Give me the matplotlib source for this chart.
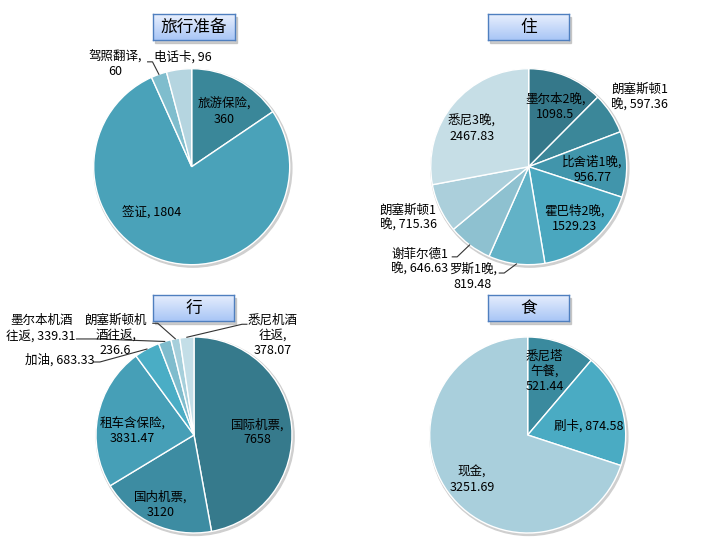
import numpy as np
import matplotlib
matplotlib.use('Agg')
from matplotlib import pyplot as plt
from matplotlib.colors import LinearSegmentedColormap
from matplotlib.patches import Circle, Rectangle

plt.rcParams['font.family'] = ['Noto Sans CJK SC', 'DejaVu Sans']

# 旅行准备
prep_names = ['旅游保险', '签证', '驾照翻译', '电话卡']
prep_values = [360, 1804, 60, 96]

# 住
stay_names = ['墨尔本2晚', '朗塞斯顿1晚', '比舍诺1晚', '霍巴特2晚', '罗斯1晚',
              '谢菲尔德1晚', '朗塞斯顿1晚', '悉尼3晚']
stay_values = [1098.5, 597.36, 956.77, 1529.23, 819.48, 646.63, 715.36, 2467.83]

# 行
move_names = ['国际机票', '国内机票', '租车含保险', '加油', '墨尔本机酒往返',
              '朗塞斯顿机酒往返', '悉尼机酒往返']
move_values = [7658, 3120, 3831.47, 683.33, 339.31, 236.6, 378.07]

# 食
food_names = ['悉尼塔午餐', '刷卡', '现金']
food_values = [521.44, 874.58, 3251.69]

W, H = 724, 551
R = 98  # pie radius in px
PAD = 1.25


def fmt(name, val, cut=0, nl=True):
    if cut:
        name = name[:cut] + '\n' + name[cut:]
    return name + (',\n' if nl else ', ') + f'{val:g}'


def title_box(fig, x0, y0, x1, y1, text):
    # shadow
    fig.patches.append(Rectangle(((x0 + 2) / W, 1 - (y1 + 3) / H),
                                 (x1 - x0) / W, (y1 - y0) / H,
                                 transform=fig.transFigure, color='#b8b8b8',
                                 alpha=0.7, zorder=-1))
    ax = fig.add_axes([x0 / W, 1 - y1 / H, (x1 - x0) / W, (y1 - y0) / H],
                      zorder=2)
    cmap = LinearSegmentedColormap.from_list('g', ['#a9c6f6', '#e8effd'])
    ax.imshow(np.linspace(1, 0, 50).reshape(-1, 1), cmap=cmap, aspect='auto',
              extent=[0, 1, 0, 1])
    ax.set_xticks([])
    ax.set_yticks([])
    for s in ax.spines.values():
        s.set_color('#4f7fbf')
        s.set_linewidth(1.0)
    ax.text(0.5, 0.48, text, ha='center', va='center', fontsize=12,
            transform=ax.transAxes)


def pie(fig, cx, cy, values, colors, labels, pos, leaders):
    L = R * PAD
    ax = fig.add_axes([(cx - L) / W, 1 - (cy + L) / H, 2 * L / W, 2 * L / H])
    ax.set_xlim(-PAD, PAD)
    ax.set_ylim(-PAD, PAD)
    ax.axis('off')
    ax.add_patch(Circle((0.012, -0.015), 1.01, color='#cfcfcf', zorder=0))
    wedges, _ = ax.pie(values, colors=colors, startangle=90, counterclock=False,
                       radius=1, wedgeprops=dict(edgecolor='white', linewidth=1.0))
    for txt, (x, y) in zip(labels, pos):
        ax.text(x, y, txt, ha='center', va='center', fontsize=9,
                linespacing=1.2, zorder=5)
    for i, (x, y, dx) in leaders.items():
        w = wedges[i]
        a = np.deg2rad((w.theta1 + w.theta2) / 2)
        ax.plot([x, x + dx, np.cos(a)], [y, y, np.sin(a)], color='#333333',
                lw=0.8, zorder=4, clip_on=False)
    ax.set_aspect('equal')
    return ax


fig = plt.figure(figsize=(W / 100, H / 100), dpi=100)

# 旅行准备
pie(fig, 191.7, 166.7, prep_values,
    ['#3a8799', '#4aa2b9', '#7fbdcd', '#b5d5e0'],
    [fmt(prep_names[0], prep_values[0]),
     fmt(prep_names[1], prep_values[1], nl=False),
     fmt(prep_names[2], prep_values[2]),
     fmt(prep_names[3], prep_values[3], nl=False)],
    [(0.33, 0.56), (-0.41, -0.47), (-0.78, 1.05), (-0.09, 1.12)],
    {2: (-0.45, 1.07, 0.05)})

# 住
pie(fig, 528.7, 166.7, stay_values,
    ['#35788a', '#3b8799', '#4195ab', '#4aa7bf', '#62b2c7', '#8ec1d0',
     '#abcfdb', '#c6dee6'],
    [fmt(stay_names[0], stay_values[0]),
     fmt(stay_names[1], stay_values[1], cut=5, nl=False),
     fmt(stay_names[2], stay_values[2]),
     fmt(stay_names[3], stay_values[3]),
     fmt(stay_names[4], stay_values[4]),
     fmt(stay_names[5], stay_values[5], cut=5, nl=False),
     fmt(stay_names[6], stay_values[6], cut=5, nl=False),
     fmt(stay_names[7], stay_values[7])],
    [(0.27, 0.61), (1.13, 0.71), (0.65, -0.03), (0.47, -0.53),
     (-0.57, -1.12), (-1.11, -0.97), (-1.23, -0.52), (-0.58, 0.39)],
    {4: (-0.30, -1.085, 0.05), 5: (-0.78, -0.92, 0.05)})

# 行
pie(fig, 194, 435, move_values,
    ['#367a8c', '#3d8ca2', '#469fb7', '#4aadc5', '#7fbccd', '#a6cfdb', '#c3dee7'],
    [fmt(move_names[0], move_values[0]),
     fmt(move_names[1], move_values[1]),
     fmt(move_names[2], move_values[2]),
     fmt(move_names[3], move_values[3], nl=False),
     fmt(move_names[4], move_values[4], cut=5, nl=False),
     fmt(move_names[5], move_values[5], cut=5),
     fmt(move_names[6], move_values[6], cut=4)],
    [(0.65, 0.03), (-0.34, -0.71), (-0.63, 0.04), (-1.37, 0.77),
     (-1.56, 1.09), (-0.80, 1.02), (0.80, 1.02)],
    {3: (-1.02, 0.745, 0.06), 4: (-1.20, 0.98, 0.2),
     5: (-0.42, 1.14, 0.05), 6: (0.54, 1.13, -0.05)})

# 食
pie(fig, 527.7, 435, food_values,
    ['#3a8a9e', '#4aabc3', '#a9cfdc'],
    [fmt(food_names[0], food_values[0], cut=3),
     fmt(food_names[1], food_values[1], nl=False),
     fmt(food_names[2], food_values[2])],
    [(0.17, 0.65), (0.62, 0.09), (-0.57, -0.46)],
    {})

title_box(fig, 153, 14, 235, 40, '旅行准备')
title_box(fig, 488, 14, 569, 40, '住')
title_box(fig, 153, 295, 234, 321, '行')
title_box(fig, 488, 295, 569, 321, '食')

fig.savefig('out.png', dpi=100)
